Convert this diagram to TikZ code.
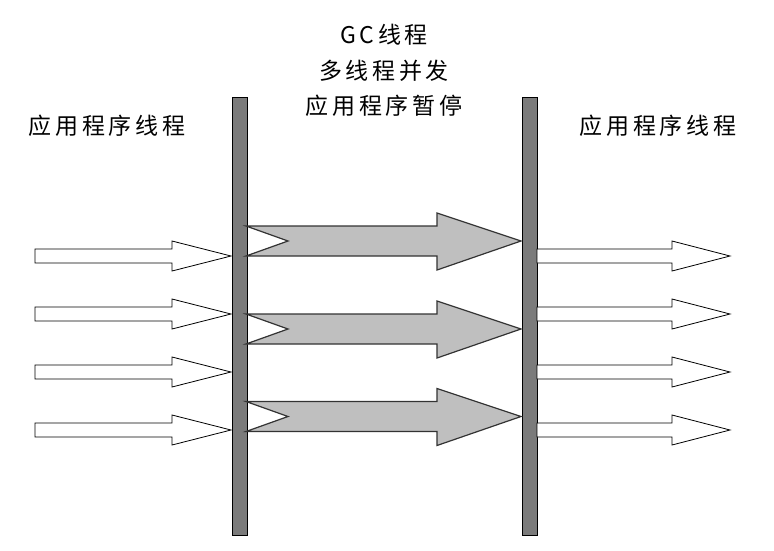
\documentclass[tikz,border=0pt]{standalone}
\usepackage{fontspec}
\newfontfamily\cjk[LetterSpace=16]{Noto Sans CJK SC}
\begin{document}
\begin{tikzpicture}[x=1pt,y=-1pt,
  bar/.style={draw=black,fill=gray!85!black!90,line width=0.6pt},
  lbl/.style={font=\cjk\fontsize{23}{23}\selectfont,inner sep=0pt},
  warrow/.style={draw=black,fill=white,line width=0.8pt},
  garrow/.style={draw=black!80,fill=gray!50,line width=1.2pt}]
\useasboundingbox (0,0) rectangle (774,550);
\node[bar,minimum width=15pt,minimum height=438pt,inner sep=0pt] (lb) at (239.5,316) {};
\node[bar,minimum width=15pt,minimum height=438pt,inner sep=0pt] (rb) at (529.5,316) {};
\node[lbl] (tl) at (107,126) {应用程序线程};
\node[lbl] (tr) at (658,126) {应用程序线程};
\node[lbl] (t1) at (384,35) {GC线程};
\node[lbl] (t2) at (384,71) {多线程并发};
\node[lbl] (t3) at (384,106) {应用程序暂停};
\foreach \y in {256,314,372,430}{
  \draw[warrow] (35,\y-7) -- (172,\y-7) -- (172,\y-15) -- (231,\y) -- (172,\y+15) -- (172,\y+7) -- (35,\y+7) -- cycle;
  \draw[warrow] (537,\y-7) -- (672,\y-7) -- (672,\y-15) -- (730,\y) -- (672,\y+15) -- (672,\y+7) -- (537,\y+7) -- cycle;
}
\foreach \y in {241,329,416.5}{
  \draw[garrow] (246,\y-15) -- (437,\y-15) -- (437,\y-28) -- (521,\y) -- (437,\y+29) -- (437,\y+15) -- (246,\y+15) -- (288,\y) -- cycle;
}
\end{tikzpicture}
\end{document}
